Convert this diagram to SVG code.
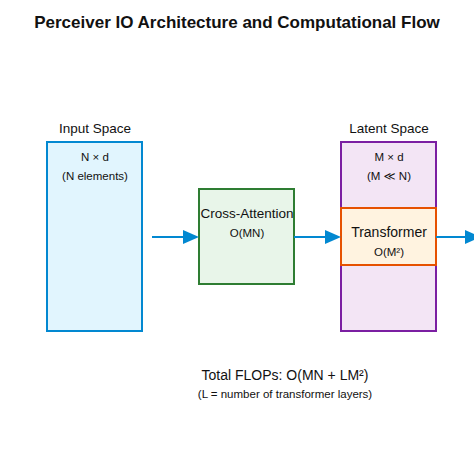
<svg xmlns="http://www.w3.org/2000/svg" width="474" height="474" viewBox="0 0 474 474">
<style>
text{font-family:"Liberation Sans",Arial,"DejaVu Sans",sans-serif;fill:#111;text-anchor:middle}
.title{font-size:17px;font-weight:bold}
.lbl{font-size:13.5px}
.sm{font-size:11.5px}
.mid{font-size:14px}
.conn{stroke:#0288d1;stroke-width:2;fill:none}
.head{fill:#0288d1}
</style>
<rect width="474" height="474" fill="#fff"/>
<text class="title" x="237" y="28">Perceiver IO Architecture and Computational Flow</text>
<g id="input">
<text class="lbl" x="95" y="133">Input Space</text>
<rect x="47" y="142" width="95" height="189" fill="#e1f5fe" stroke="#0288d1" stroke-width="2"/>
<text class="sm" x="95" y="161">N × d</text>
<text class="sm" x="95" y="180">(N elements)</text>
</g>
<g id="cross">
<rect x="199" y="189" width="95" height="95" fill="#e8f5e9" stroke="#2e7d32" stroke-width="2"/>
<text class="lbl" x="247" y="218">Cross-Attention</text>
<text class="sm" x="247" y="237">O(MN)</text>
</g>
<g id="latent">
<text class="lbl" x="389" y="133">Latent Space</text>
<rect x="341" y="142" width="95" height="189" fill="#f3e5f5" stroke="#7b1fa2" stroke-width="2"/>
<text class="sm" x="389" y="161">M × d</text>
<text class="sm" x="389" y="180">(M ≪ N)</text>
</g>
<g id="transformer">
<rect x="341" y="208" width="95" height="57" fill="#fff3e0" stroke="#e65100" stroke-width="2"/>
<text class="mid" x="389" y="237">Transformer</text>
<text class="sm" x="389" y="256">O(M²)</text>
</g>
<g id="connectors">
<line class="conn" x1="152" y1="237" x2="185" y2="237"/>
<path class="head" d="M183,230 L199,237 L183,244 z"/>
<line class="conn" x1="294" y1="237" x2="327" y2="237"/>
<path class="head" d="M325,230 L341,237 L325,244 z"/>
<line class="conn" x1="436" y1="237" x2="467" y2="237"/>
<path class="head" d="M465,230 L481,237 L465,244 z"/>
</g>
<g id="footer">
<text class="mid" x="285" y="380">Total FLOPs: O(MN + LM²)</text>
<text class="sm" x="285" y="398">(L = number of transformer layers)</text>
</g>
</svg>
